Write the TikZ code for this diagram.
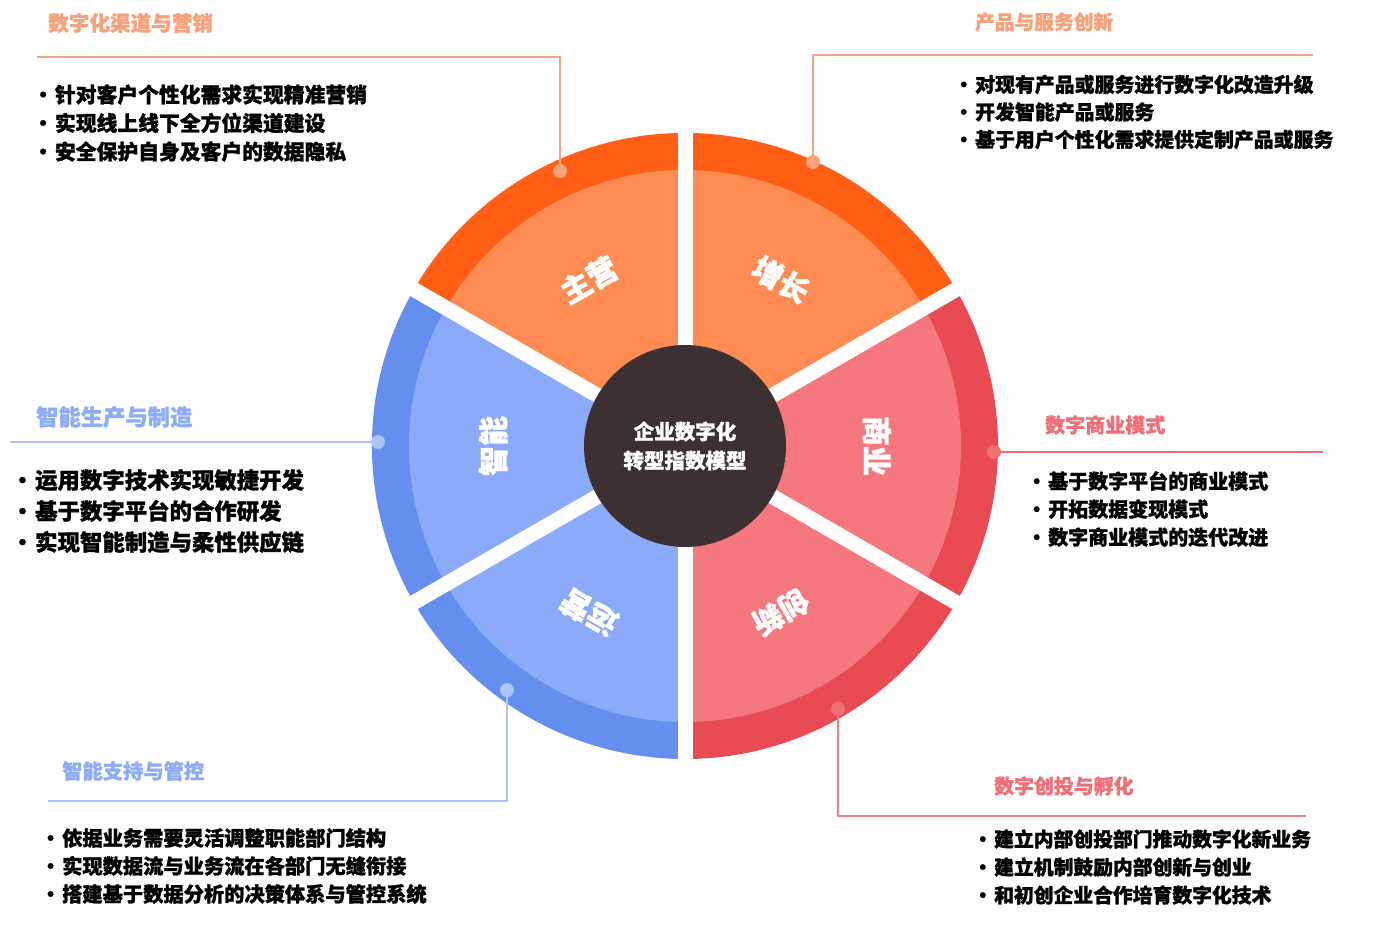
\documentclass[tikz,border=0pt]{standalone}
\usepackage{fontspec}
\usepackage{tikz}
\usetikzlibrary{positioning,calc}
\newfontfamily\cjk{Noto Sans CJK SC}[BoldFeatures={FakeBold=1.2}]
\definecolor{orgD}{HTML}{FF5F15}
\definecolor{orgL}{HTML}{FF8C52}
\definecolor{redD}{HTML}{E84B54}
\definecolor{redL}{HTML}{F4787D}
\definecolor{bluD}{HTML}{648FEF}
\definecolor{bluL}{HTML}{8BABF8}
\definecolor{hub}{HTML}{3D3032}
\definecolor{orgT}{HTML}{F8A27B}
\definecolor{orgK}{HTML}{F2A382}
\definecolor{bluT}{HTML}{8DADF6}
\definecolor{bluK}{HTML}{AFC4F7}
\definecolor{redT}{HTML}{F07078}
\definecolor{redK}{HTML}{E98189}
\newcommand{\bul}{•\hspace{1.5pt}}

\begin{document}
\begin{tikzpicture}[x=1pt, y=1pt,
  every node/.style={font=\cjk\bfseries},
  sect/.style={text=white, font=\cjk\bfseries\fontsize{30}{32}\selectfont, inner sep=0},
  ttl/.style={anchor=west, inner sep=0, font=\cjk\bfseries\fontsize{#1}{24}\selectfont},
  blist/.style n args={2}{anchor=west, inner sep=0, align=left, font=\cjk\bfseries\fontsize{#1}{#2}\selectfont},
  dot/.style={circle, inner sep=0, minimum size=14},
  lnk/.style={line width=2}]
\useasboundingbox (0,0) rectangle (1375,-925);
\coordinate (ctr) at (685,-446);
% outer ring, then inner sectors
\fill[orgD] (ctr) -- ++(30:313) arc[start angle=30, end angle=150, radius=313] -- cycle;
\fill[bluD] (ctr) -- ++(150:313) arc[start angle=150, end angle=270, radius=313] -- cycle;
\fill[redD] (ctr) -- ++(270:313) arc[start angle=270, end angle=390, radius=313] -- cycle;
\fill[orgL] (ctr) -- ++(30:276) arc[start angle=30, end angle=150, radius=276] -- cycle;
\fill[bluL] (ctr) -- ++(150:276) arc[start angle=150, end angle=270, radius=276] -- cycle;
\fill[redL] (ctr) -- ++(270:276) arc[start angle=270, end angle=390, radius=276] -- cycle;
\foreach \a in {30,90,...,330}
  \draw[white, line width=15] (ctr) -- ++(\a:330);
\node[circle, fill=hub, minimum size=202, text=white, align=center, font=\cjk\bfseries\fontsize{20.5}{29}\selectfont] (core) at (ctr) {企业数字化\\转型指数模型};

\node[sect, rotate=30] (zy) at ($(ctr)+(120:192)$) {主营};
\node[sect, rotate=-30] (zz) at ($(ctr)+(60:192)$) {增长};
\node[sect, rotate=-90] (sy) at ($(ctr)+(0:192)$) {商业};
\node[sect, rotate=-150] (cx) at ($(ctr)+(-60:192)$) {创新};
\node[sect, rotate=150] (yy) at ($(ctr)+(240:192)$) {运营};
\node[sect, rotate=90] (zn) at ($(ctr)+(180:192)$) {智能};

% callouts
\node[dot, fill=orgT] (d1) at (560,-171) {};
\node[dot, fill=orgT] (d2) at (813,-162) {};
\node[dot, fill=bluK] (d3) at (378,-442) {};
\node[dot, fill=redT] (d4) at (994,-452) {};
\node[dot, fill=bluK] (d5) at (507,-690) {};
\node[dot, fill=redT] (d6) at (838,-709) {};
\coordinate (e1) at (37,-57);
\coordinate (e2) at (1313,-55);
\coordinate (e3) at (10,-442);
\coordinate (e4) at (1323,-452);
\coordinate (e5) at (48,-801);
\coordinate (e6) at (1306,-816);
\draw[lnk, orgK] (d1) |- (e1);
\draw[lnk, orgK] (d2) |- (e2);
\draw[lnk, bluK] (d3) -- (e3);
\draw[lnk, redT] (d4) -- (e4);
\draw[lnk, bluK] (d5) |- (e5);
\draw[lnk, redK] (d6) |- (e6);

\node[ttl=20.6, orgT] (t1) at (48,-23) {数字化渠道与营销};
\node[ttl=19.7, orgT] (t2) at (975,-22) {产品与服务创新};
\node[ttl=22.3, bluT] (t3) at (36,-417) {智能生产与制造};
\node[ttl=20, redT] (t4) at (1045,-425) {数字商业模式};
\node[ttl=20.3, bluT] (t5) at (62,-771) {智能支持与管控};
\node[ttl=19.9, redT] (t6) at (994,-786) {数字创投与孵化};

\node[blist={20.8}{28.5}] (b1) at (32.5,-123) {\bul 针对客户个性化需求实现精准营销\\\bul 实现线上线下全方位渠道建设\\\bul 安全保护自身及客户的数据隐私};
\node[blist={19.9}{27.5}] (b2) at (953.6,-112) {\bul 对现有产品或服务进行数字化改造升级\\\bul 开发智能产品或服务\\\bul 基于用户个性化需求提供定制产品或服务};
\node[blist={22.4}{31}] (b3) at (11.1,-511) {\bul 运用数字技术实现敏捷开发\\\bul 基于数字平台的合作研发\\\bul 实现智能制造与柔性供应链};
\node[blist={20}{28}] (b4) at (1026.5,-509) {\bul 基于数字平台的商业模式\\\bul 开拓数据变现模式\\\bul 数字商业模式的迭代改进};
\node[blist={20.25}{28}] (b5) at (40.25,-866) {\bul 依据业务需要灵活调整职能部门结构\\\bul 实现数据流与业务流在各部门无缝衔接\\\bul 搭建基于数据分析的决策体系与管控系统};
\node[blist={19.8}{28}] (b6) at (972.7,-867) {\bul 建立内部创投部门推动数字化新业务\\\bul 建立机制鼓励内部创新与创业\\\bul 和初创企业合作培育数字化技术};
\end{tikzpicture}
\end{document}
